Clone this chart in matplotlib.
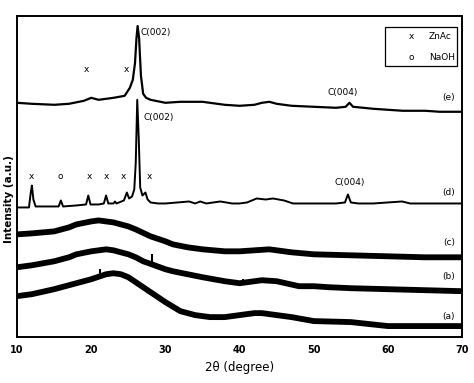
from matplotlib import pyplot as plt
from matplotlib.patches import Rectangle

# XRD patterns, 2theta (degree) vs intensity (arbitrary, stacked with offsets already in)
tt_e = [10, 12, 15, 17, 19, 20, 21, 23, 24.5, 25.2, 25.6, 25.9, 26.1, 26.25, 26.45, 26.7, 27.0, 27.4, 28, 30, 32, 35,
        38, 40, 42, 43, 44, 45, 47, 50, 53, 54.3, 54.8, 55.3, 58, 60, 62, 65, 67, 70]
int_e = [235, 234, 233, 234, 237, 240, 238, 240, 242, 250, 258, 275, 300, 312, 300, 262, 244, 240, 238, 235, 236, 236,
         233, 232, 233, 235, 236, 234, 232, 231, 230, 231, 235, 231, 229, 228, 227, 227, 226, 226]

tt_d = [10, 11.6, 11.85, 12.0, 12.2, 12.5, 14, 15.6, 15.9, 16.2, 18, 19.3, 19.6, 19.9, 21, 21.7, 22.0, 22.3, 23.0,
        23.2, 23.4, 24.4, 24.8, 25.1, 25.5, 25.8, 26.0, 26.2, 26.4, 26.6, 26.9, 27.3, 27.6, 28.0, 29, 30, 33.2,
        34, 34.7, 35.5, 37.4, 39, 40, 41, 42.3, 43.5, 44.5, 46, 47.2, 50, 53, 54.2, 54.6, 55.0, 56, 58, 61.9, 63,
        66, 68, 70]
int_d = [130, 130, 145, 152, 138, 131, 131, 131, 137, 131, 132, 133, 142, 133, 133, 134, 142, 134, 134,
         136, 134, 137, 145, 139, 141, 148, 175, 238, 200, 150, 142, 145, 138, 135, 134, 134, 136,
         134, 136, 134, 136, 134, 134, 135, 139, 138, 139, 137, 134, 134, 134, 135, 143, 135, 134, 134, 136, 134,
         134, 134, 134]

tt_c = [10, 12, 15, 17, 18, 20, 21, 22, 23, 25, 26, 28, 30, 31, 33, 35, 38, 40, 42, 44, 45, 47, 50, 55, 60, 65, 70]
int_c = [103, 104, 106, 110, 113, 116, 117, 116, 115, 111, 108, 101, 96, 93, 90, 88, 86, 86, 87, 88, 87, 85, 83,
         82, 81, 80, 80]

tt_b = [10, 12, 15, 17, 18, 20, 22, 23, 25, 26, 27, 28.15, 30, 31, 33, 35, 38, 40, 43, 45,
        48, 50, 52, 55, 60, 65, 70]
int_b = [70, 72, 76, 80, 83, 86, 88, 87, 83, 80, 76, 73, 68, 66, 63, 60, 56, 54, 57, 56,
         51, 51, 50, 49, 48, 47, 46]

tt_a = [10, 12, 15, 17, 20, 22, 23, 24, 25, 26, 27, 28, 30, 32, 34, 36, 38, 40, 42, 43, 45, 47,
        50, 55, 60, 65, 70]
int_a = [41, 43, 48, 52, 58, 63, 64, 63, 60, 55, 50, 45, 35, 26, 22, 20, 20, 22, 24, 24, 22, 20,
         16, 15, 11, 11, 11]

# sharp spikes standing on the broad patterns: 2theta, top intensity
spike_tt = [28.15, 40.4, 21.2]
spike_top = [83, 58, 68]
spike_base = [72, 53, 58]

xticks = [10, 20, 30, 40, 50, 60, 70]

# peak markers: (2theta, height, text)
marks_e = [(19.3, 268, "x"), (24.7, 268, "x")]
marks_d = [(12.0, 161, "x"), (15.8, 161, "o"), (19.7, 161, "x"), (22.0, 161, "x"), (24.3, 161, "x"), (27.8, 161, "x")]
curve_labels = [(68.2, 240, "(e)"), (68.2, 145, "(d)"), (68.2, 95, "(c)"), (68.2, 61, "(b)"), (68.2, 21, "(a)")]

fig = plt.figure(figsize=(4.74, 3.83), dpi=100)
ax = fig.add_axes([0.036, 0.12, 0.939, 0.838])

ax.plot(tt_e, int_e, color="black", lw=1.6)
ax.plot(tt_d, int_d, color="black", lw=1.4)
for tt, inten in [(tt_c, int_c), (tt_b, int_b), (tt_a, int_a)]:
    ax.plot(tt, inten, color="black", lw=4.2)
ax.vlines(spike_tt, spike_base, spike_top, color="black", lw=1.5)

fs = 6.5
for x, y, s in marks_e + marks_d:
    ax.text(x, y, s, ha="center", va="center", fontsize=fs)
for x, y, s in curve_labels:
    ax.text(x, y, s, ha="center", va="center", fontsize=fs)
ax.text(26.7, 306, "C(002)", ha="left", va="center", fontsize=fs)
ax.text(27.0, 220, "C(002)", ha="left", va="center", fontsize=fs)
ax.text(53.9, 245, "C(004)", ha="center", va="center", fontsize=fs)
ax.text(54.9, 155, "C(004)", ha="center", va="center", fontsize=fs)

# legend box
ax.add_patch(Rectangle((0.827, 0.845), 0.162, 0.122, transform=ax.transAxes, fill=False, lw=0.9, color="black"))
ax.text(0.885, 0.935, "x", transform=ax.transAxes, ha="center", va="center", fontsize=fs)
ax.text(0.885, 0.870, "o", transform=ax.transAxes, ha="center", va="center", fontsize=fs)
ax.text(0.925, 0.935, "ZnAc", transform=ax.transAxes, ha="left", va="center", fontsize=fs)
ax.text(0.925, 0.870, "NaOH", transform=ax.transAxes, ha="left", va="center", fontsize=fs)

ax.set_xlim(10, 70)
ax.set_ylim(0, 322)
ax.set_xticks(xticks)
ax.set_yticks([])
ax.tick_params(axis="x", length=0, labelsize=7, pad=6)
for lab in ax.get_xticklabels():
    lab.set_fontweight("bold")
for sp in ax.spines.values():
    sp.set_linewidth(1.4)
ax.set_xlabel("2θ (degree)", fontsize=8.5, labelpad=4)
ax.set_ylabel("Intensity (a.u.)", fontsize=7.5, fontweight="bold")
ax.yaxis.set_label_coords(-0.008, 0.43)

plt.savefig("out.png", dpi=100)
